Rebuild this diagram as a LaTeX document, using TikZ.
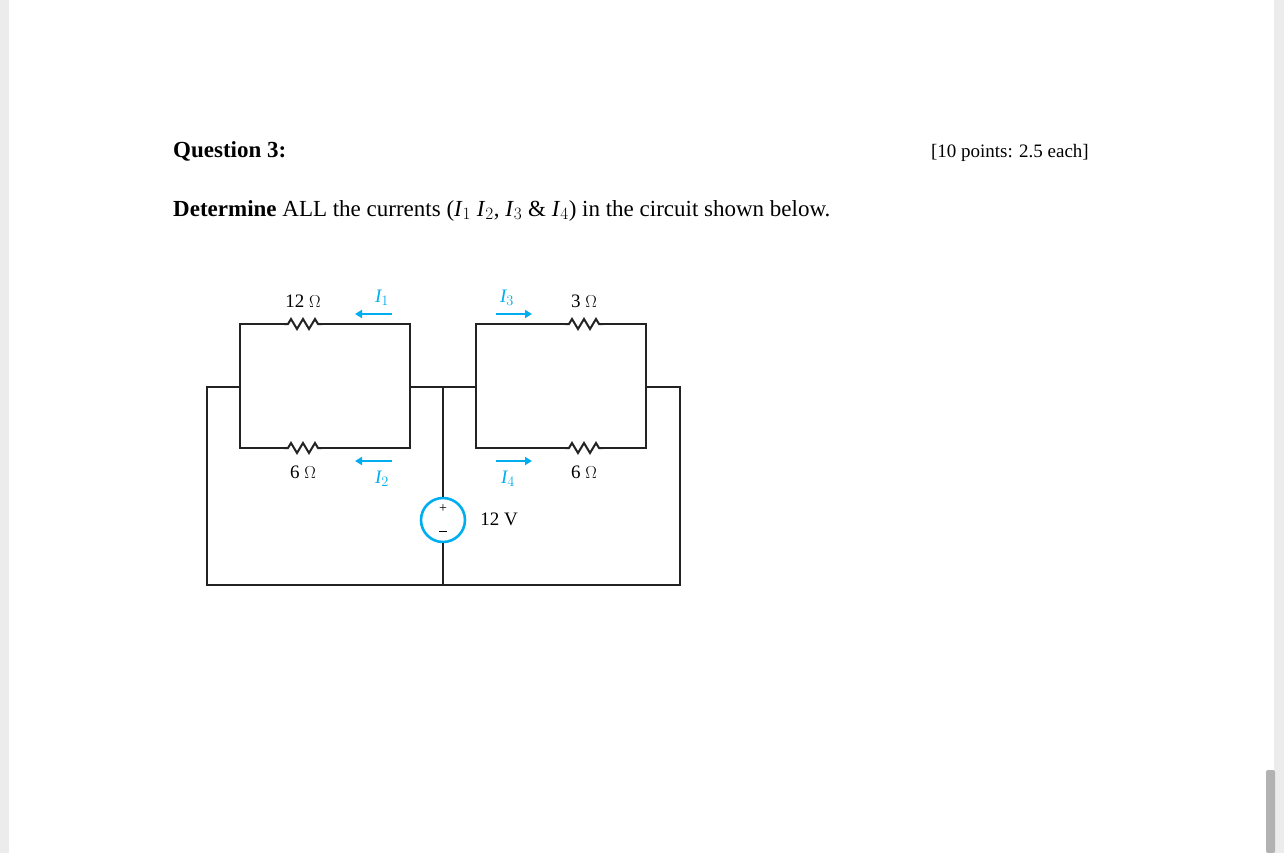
\documentclass[tikz,border=0pt]{standalone}
\usepackage{fontspec}
\setmainfont{Liberation Serif}
\usetikzlibrary{arrows.meta}
\definecolor{cy}{RGB}{0,174,239}
\definecolor{wire}{RGB}{35,35,35}
\begin{document}
\begin{tikzpicture}[x=1pt,y=-1pt,
  w/.style={line width=2.6pt,color=wire,line join=miter},
  cur/.style={line width=2.6pt,color=cy,-{Triangle[length=7pt,width=8pt]}},
  lbl/.style={font=\fontsize{19}{19}\selectfont,inner sep=0pt},
  ilbl/.style={font=\fontsize{19}{19}\selectfont\itshape,text=cy,inner sep=0pt},
  res/.pic={\draw[w,line width=2pt] (-19,0)--(-15,0)--(-12,-5)--(-6,5)--(0,-5)--(6,5)--(12,-5)--(15,0)--(19,0);}]
\useasboundingbox (0,0) rectangle (1284,853);
\fill[gray!15] (0,0) rectangle (9,853);
\fill[gray!15] (1274,0) rectangle (1284,853);
\fill[gray!60,rounded corners=2pt] (1266,770) rectangle (1275,853);
\node[anchor=base west,font=\fontsize{23}{23}\selectfont\bfseries,inner sep=0pt] (q) at (173,158) {Question 3:};
\node[anchor=base east,font=\fontsize{19}{19}\selectfont,inner sep=0pt] (pts) at (1089,158) {[10 points: 2.5 each]};
\node[anchor=base west,font=\fontsize{23}{23}\selectfont,inner sep=0pt] (det) at (173,216) {\textbf{Determine} ALL the currents (\textit{I}$_1$ \textit{I}$_2$, \textit{I}$_3$ \& \textit{I}$_4$) in the circuit shown below.};
% coordinates
\coordinate (LTL) at (240,324); \coordinate (LTR) at (410,324);
\coordinate (LBL) at (240,448); \coordinate (LBR) at (410,448);
\coordinate (RTL) at (476,324); \coordinate (RTR) at (646,324);
\coordinate (RBL) at (476,448); \coordinate (RBR) at (646,448);
\coordinate (ML) at (240,387); \coordinate (MR) at (646,387);
\coordinate (OL) at (207,387); \coordinate (OR) at (680,387);
\coordinate (BL) at (207,585); \coordinate (BR) at (680,585);
\coordinate (J) at (443,387); \coordinate (JB) at (443,585);
\coordinate (CL) at (410,387); \coordinate (CR) at (476,387);
\pic at (303,324) {res}; \pic at (303,448) {res};
\pic at (584,324) {res}; \pic at (584,448) {res};
\draw[w] (284,324) -| (LBL) -- (284,448);
\draw[w] (322,324) -| (LBR) -- (322,448);
\draw[w] (565,324) -| (RBL) -- (565,448);
\draw[w] (603,324) -| (RBR) -- (603,448);
\draw[w] (ML) -- (OL) -- (BL) -- (BR) -- (OR) -- (MR);
\draw[w] (CL) -- (CR);
\node[circle,draw=cy,line width=2.6pt,minimum size=44pt,inner sep=0pt,fill=white] (src) at (443,520) {};
\draw[w] (J) -- (src.north);
\draw[w] (src.south) -- (JB);
\node[font=\fontsize{14}{14}\selectfont] at (443,509) {+};
\draw[line width=1pt] (439,531)--(447,531);
\node[lbl] (v) at (499,519) {12 V};
\node[lbl] at (303,301) {12 $\Omega$};
\node[lbl] at (584,301) {3 $\Omega$};
\node[lbl] at (303,472) {6 $\Omega$};
\node[lbl] at (584,472) {6 $\Omega$};
\draw[cur] (392,314) -- (355,314); \node[ilbl] at (382,298) {I$_1$};
\draw[cur] (392,461) -- (355,461); \node[ilbl] at (382,479) {I$_2$};
\draw[cur] (496,314) -- (532,314); \node[ilbl] at (507,298) {I$_3$};
\draw[cur] (496,461) -- (532,461); \node[ilbl] at (508,479) {I$_4$};
\end{tikzpicture}
\end{document}
